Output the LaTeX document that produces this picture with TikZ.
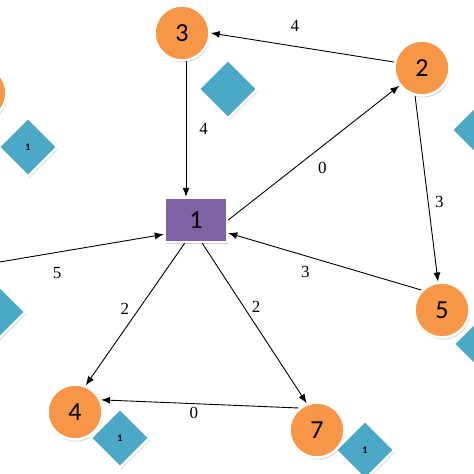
\documentclass[tikz,border=0pt]{standalone}
\usepackage{fontspec}
\setmainfont{Liberation Serif}
\newfontfamily\numfont{Carlito}
\usetikzlibrary{shapes.geometric,shadows,arrows.meta}
\definecolor{vorange}{HTML}{F79646}
\definecolor{vpurple}{HTML}{7F62A6}
\definecolor{vteal}{HTML}{4BA8C6}

\begin{document}
\begin{tikzpicture}[x=1pt,y=-1pt,
                    shade/.style={drop shadow={shadow xshift=1pt,shadow yshift=-2pt,fill=black!30,opacity=0.6}},
                    vert/.style={circle,fill=vorange,draw=white,line width=2.5pt,minimum size=55pt,inner sep=0pt,
                                 font=\numfont\fontsize{26}{26}\selectfont,shade},
                    box/.style={rectangle,fill=vpurple,draw=white,line width=2.5pt,minimum width=62pt,minimum height=44pt,
                                inner sep=0pt,font=\numfont\fontsize{26}{26}\selectfont,shade},
                    tag/.style={diamond,fill=vteal,draw=white,line width=2.5pt,minimum size=60pt,inner sep=0pt,
                                font=\numfont\bfseries\fontsize{10}{10}\selectfont,shade},
                    edge/.style={line width=0.9pt,-{Latex[length=9pt,width=7pt]}},
                    lab/.style={inner sep=1pt,font=\fontsize{17}{17}\selectfont}]
                    \path[use as bounding box,fill=white] (0,0) rectangle (474,474);
                    \clip (0,0) rectangle (474,474);
                    \node[box] (r1) at (196,220) {1};
                    \node[vert] (n3) at (182,33) {3};
                    \node[vert] (n2) at (422,68) {2};
                    \node[vert] (n5) at (442,310) {5};
                    \node[vert] (n7) at (317,430) {7};
                    \node[vert] (n4) at (75,412) {4};
                    \node[vert] (n6) at (-21,93) {};
                    \coordinate (c8) at (-30,267);
                    \node[tag] (t3) at (228,89) {};
                    \node[tag] (t2) at (481,130) {};
                    \node[tag] (t5) at (483,344) {};
                    \node[tag] (t4) at (120,438) {1};
                    \node[tag] (t7) at (365,450) {1};
                    \node[tag] (t6) at (28,147) {1};
                    \node[tag] (t8) at (-4,312) {};
                    \draw[edge] (n2.168) -- node[lab,pos=0.54,above=13pt]{4} (n3.0);
                    \draw[edge] (n3.-82) -- node[lab,pos=0.5,right=12pt]{4} (n3.-82 |- r1.north);
                    \draw[edge] (r1.east) -- node[lab,pos=0.55,below=15pt]{0} (n2.218);
                    \draw[edge] (n2.256) -- node[lab,pos=0.57,right=5.5pt]{3} (n5.98);
                    \draw[edge] (n5.136) -- node[lab,pos=0.6,below=8.5pt]{3} (r1.-22);
                    \draw[edge] (c8) -- node[lab,pos=0.45,below=13.5pt]{5} (r1.204);
                    \draw[edge] (r1.244) -- node[lab,pos=0.46,left=8.5pt]{2} (n4.68);
                    \draw[edge] (r1.285) -- node[lab,pos=0.4,right=6.5pt]{2} (n7.111);
                    \draw[edge] (n7.130) -- node[lab,pos=0.53,below=2.5pt]{0} (n4.25);
                \end{tikzpicture}
\end{document}
